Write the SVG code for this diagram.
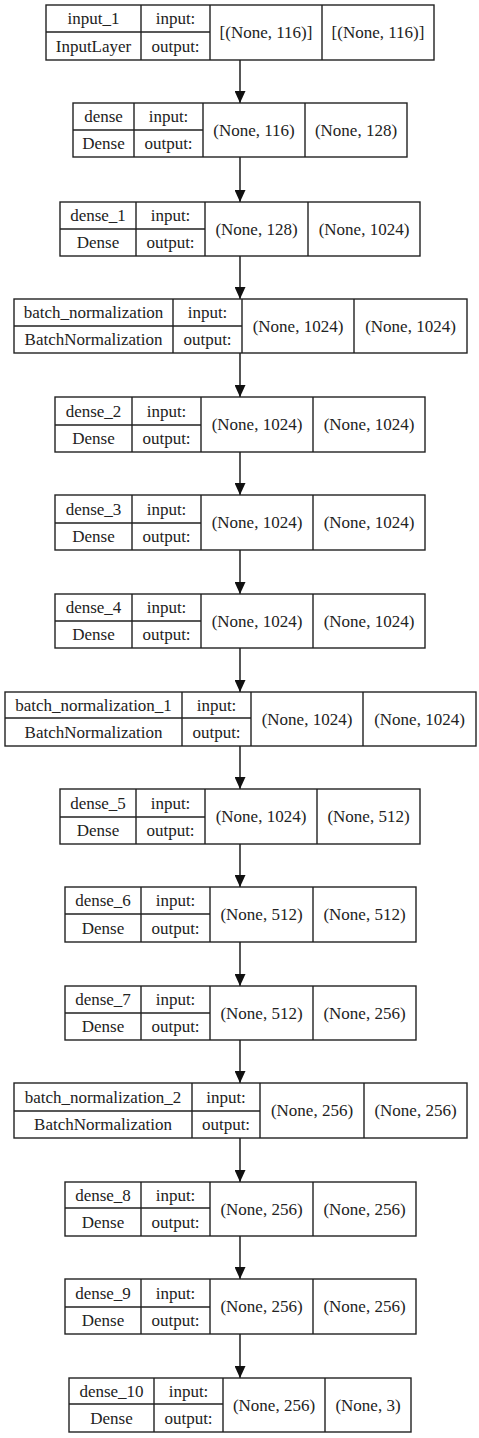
<svg xmlns="http://www.w3.org/2000/svg" width="479" height="1438" viewBox="0 0 479 1438">
<style>
.b{fill:#fff;stroke:#222;stroke-width:1.4}
.l{stroke:#222;stroke-width:1.4;fill:none}
.t{font-family:'Liberation Serif','Times New Roman','DejaVu Serif',serif;font-size:17px;fill:#222;text-anchor:middle}
.e{stroke:#111;stroke-width:1.4;fill:none}
</style>
<defs>
<marker id="ah" markerUnits="userSpaceOnUse" markerWidth="12" markerHeight="11" refX="12" refY="5.5" orient="auto">
<path d="M0,0 L12,5.5 L0,11 z" fill="#111"/>
</marker>
</defs>
<rect width="479" height="1438" fill="#fff"/>
<g id="edges">
<path class="e" d="M240,60 V103" marker-end="url(#ah)"/>
<path class="e" d="M240,157 V202" marker-end="url(#ah)"/>
<path class="e" d="M240,256 V299" marker-end="url(#ah)"/>
<path class="e" d="M240,353 V397" marker-end="url(#ah)"/>
<path class="e" d="M240,452 V495" marker-end="url(#ah)"/>
<path class="e" d="M240,550 V594" marker-end="url(#ah)"/>
<path class="e" d="M240,648 V692" marker-end="url(#ah)"/>
<path class="e" d="M240,746 V789" marker-end="url(#ah)"/>
<path class="e" d="M240,844 V887" marker-end="url(#ah)"/>
<path class="e" d="M240,942 V986" marker-end="url(#ah)"/>
<path class="e" d="M240,1040 V1083" marker-end="url(#ah)"/>
<path class="e" d="M240,1138 V1182" marker-end="url(#ah)"/>
<path class="e" d="M240,1236 V1279" marker-end="url(#ah)"/>
<path class="e" d="M240,1334 V1378" marker-end="url(#ah)"/>
</g>
<g class="t" font-family="Liberation Serif, Times New Roman, DejaVu Serif, serif">
<g id="input_1">
<rect class="b" x="46" y="5" width="388" height="55"/>
<path class="l" d="M141,5 V60 M210,5 V60 M322,5 V60 M46,32 H210"/>
<text x="93.5" y="24">input_1</text><text x="175.5" y="24">input:</text>
<text x="93.5" y="51.5">InputLayer</text><text x="175.5" y="51.5">output:</text>
<text x="266" y="38">[(None, 116)]</text><text x="378" y="38">[(None, 116)]</text>
</g>
<g id="dense">
<rect class="b" x="73" y="103" width="334" height="54"/>
<path class="l" d="M134,103 V157 M203,103 V157 M305,103 V157 M73,130 H203"/>
<text x="103.5" y="122">dense</text><text x="168.5" y="122">input:</text>
<text x="103.5" y="149">Dense</text><text x="168.5" y="149">output:</text>
<text x="254" y="135.5">(None, 116)</text><text x="356" y="135.5">(None, 128)</text>
</g>
<g id="dense_1">
<rect class="b" x="60" y="202" width="360" height="54"/>
<path class="l" d="M136,202 V256 M205,202 V256 M308,202 V256 M60,229 H205"/>
<text x="98" y="221">dense_1</text><text x="170.5" y="221">input:</text>
<text x="98" y="248">Dense</text><text x="170.5" y="248">output:</text>
<text x="256.5" y="234.5">(None, 128)</text><text x="364" y="234.5">(None, 1024)</text>
</g>
<g id="batch_normalization">
<rect class="b" x="14" y="299" width="453" height="54"/>
<path class="l" d="M173,299 V353 M242,299 V353 M354,299 V353 M14,326 H242"/>
<text x="93.5" y="318">batch_normalization</text><text x="207.5" y="318">input:</text>
<text x="93.5" y="345">BatchNormalization</text><text x="207.5" y="345">output:</text>
<text x="298" y="331.5">(None, 1024)</text><text x="410.5" y="331.5">(None, 1024)</text>
</g>
<g id="dense_2">
<rect class="b" x="55" y="397" width="370" height="55"/>
<path class="l" d="M132,397 V452 M201,397 V452 M313,397 V452 M55,425 H201"/>
<text x="93.5" y="416.5">dense_2</text><text x="166.5" y="416.5">input:</text>
<text x="93.5" y="444">Dense</text><text x="166.5" y="444">output:</text>
<text x="257" y="430">(None, 1024)</text><text x="369" y="430">(None, 1024)</text>
</g>
<g id="dense_3">
<rect class="b" x="55" y="495" width="370" height="55"/>
<path class="l" d="M132,495 V550 M201,495 V550 M313,495 V550 M55,523 H201"/>
<text x="93.5" y="514.5">dense_3</text><text x="166.5" y="514.5">input:</text>
<text x="93.5" y="542">Dense</text><text x="166.5" y="542">output:</text>
<text x="257" y="528">(None, 1024)</text><text x="369" y="528">(None, 1024)</text>
</g>
<g id="dense_4">
<rect class="b" x="55" y="594" width="370" height="54"/>
<path class="l" d="M132,594 V648 M201,594 V648 M313,594 V648 M55,621 H201"/>
<text x="93.5" y="613">dense_4</text><text x="166.5" y="613">input:</text>
<text x="93.5" y="640">Dense</text><text x="166.5" y="640">output:</text>
<text x="257" y="626.5">(None, 1024)</text><text x="369" y="626.5">(None, 1024)</text>
</g>
<g id="batch_normalization_1">
<rect class="b" x="5" y="692" width="471" height="54"/>
<path class="l" d="M182,692 V746 M251,692 V746 M363,692 V746 M5,718 H251"/>
<text x="93.5" y="710.5">batch_normalization_1</text><text x="216.5" y="710.5">input:</text>
<text x="93.5" y="737.5">BatchNormalization</text><text x="216.5" y="737.5">output:</text>
<text x="307" y="724.5">(None, 1024)</text><text x="419.5" y="724.5">(None, 1024)</text>
</g>
<g id="dense_5">
<rect class="b" x="60" y="789" width="360" height="55"/>
<path class="l" d="M136,789 V844 M205,789 V844 M317,789 V844 M60,817 H205"/>
<text x="98" y="808.5">dense_5</text><text x="170.5" y="808.5">input:</text>
<text x="98" y="836">Dense</text><text x="170.5" y="836">output:</text>
<text x="261" y="822">(None, 1024)</text><text x="368.5" y="822">(None, 512)</text>
</g>
<g id="dense_6">
<rect class="b" x="65" y="887" width="351" height="55"/>
<path class="l" d="M141,887 V942 M210,887 V942 M313,887 V942 M65,914 H210"/>
<text x="103" y="906">dense_6</text><text x="175.5" y="906">input:</text>
<text x="103" y="933.5">Dense</text><text x="175.5" y="933.5">output:</text>
<text x="261.5" y="920">(None, 512)</text><text x="364.5" y="920">(None, 512)</text>
</g>
<g id="dense_7">
<rect class="b" x="65" y="986" width="351" height="54"/>
<path class="l" d="M141,986 V1040 M210,986 V1040 M313,986 V1040 M65,1013 H210"/>
<text x="103" y="1005">dense_7</text><text x="175.5" y="1005">input:</text>
<text x="103" y="1032">Dense</text><text x="175.5" y="1032">output:</text>
<text x="261.5" y="1018.5">(None, 512)</text><text x="364.5" y="1018.5">(None, 256)</text>
</g>
<g id="batch_normalization_2">
<rect class="b" x="14" y="1083" width="453" height="55"/>
<path class="l" d="M192,1083 V1138 M260,1083 V1138 M364,1083 V1138 M14,1111 H260"/>
<text x="103" y="1102.5">batch_normalization_2</text><text x="226" y="1102.5">input:</text>
<text x="103" y="1130">BatchNormalization</text><text x="226" y="1130">output:</text>
<text x="312" y="1116">(None, 256)</text><text x="415.5" y="1116">(None, 256)</text>
</g>
<g id="dense_8">
<rect class="b" x="65" y="1182" width="351" height="54"/>
<path class="l" d="M141,1182 V1236 M210,1182 V1236 M313,1182 V1236 M65,1208 H210"/>
<text x="103" y="1200.5">dense_8</text><text x="175.5" y="1200.5">input:</text>
<text x="103" y="1227.5">Dense</text><text x="175.5" y="1227.5">output:</text>
<text x="261.5" y="1214.5">(None, 256)</text><text x="364.5" y="1214.5">(None, 256)</text>
</g>
<g id="dense_9">
<rect class="b" x="65" y="1279" width="351" height="55"/>
<path class="l" d="M141,1279 V1334 M210,1279 V1334 M313,1279 V1334 M65,1307 H210"/>
<text x="103" y="1298.5">dense_9</text><text x="175.5" y="1298.5">input:</text>
<text x="103" y="1326">Dense</text><text x="175.5" y="1326">output:</text>
<text x="261.5" y="1312">(None, 256)</text><text x="364.5" y="1312">(None, 256)</text>
</g>
<g id="dense_10">
<rect class="b" x="69" y="1378" width="342" height="54"/>
<path class="l" d="M154,1378 V1432 M223,1378 V1432 M325,1378 V1432 M69,1404 H223"/>
<text x="111.5" y="1396.5">dense_10</text><text x="188.5" y="1396.5">input:</text>
<text x="111.5" y="1423.5">Dense</text><text x="188.5" y="1423.5">output:</text>
<text x="274" y="1410.5">(None, 256)</text><text x="368" y="1410.5">(None, 3)</text>
</g>
</g>
</svg>
